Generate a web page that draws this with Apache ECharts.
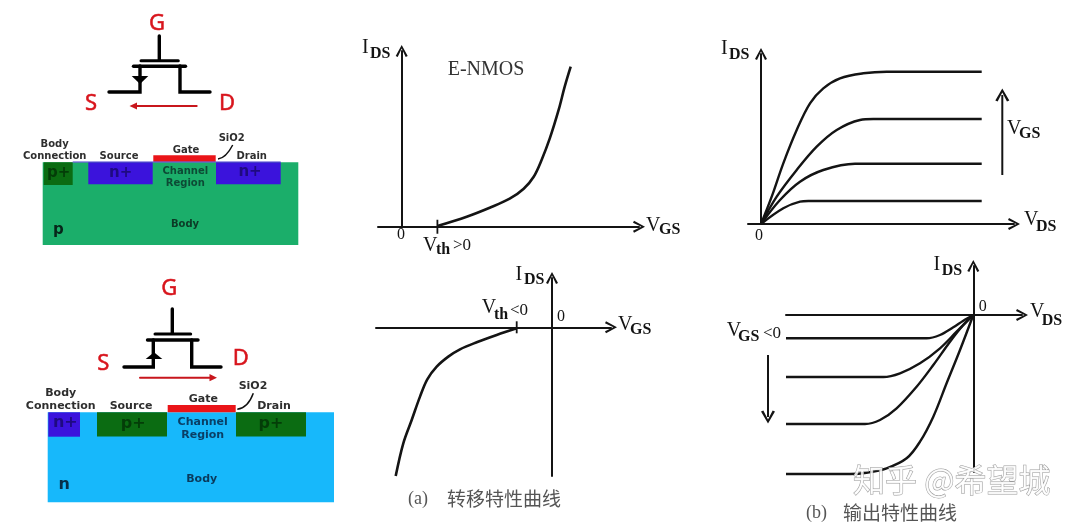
<!DOCTYPE html>
<html><head><meta charset="utf-8">
<style>html,body{margin:0;padding:0;background:#fff}#c{width:1080px;height:525px}</style>
<script src="https://cdn.jsdelivr.net/npm/echarts@6/dist/echarts.min.js"></script>
</head><body><div id="c"></div>
<script>
// ---- chart values (arbitrary units) ----
const transferN = [[35.7,0.7],[65,10],[88,19],[108,28],[122,38],[132,50],[140,67],[148,88],[157,117],[163,140],[169,160]];
const transferP = [[-35.3,-1],[-55.3,-7.7],[-75.3,-15],[-92,-22],[-103.7,-29.3],[-115.3,-39.3],[-124.7,-52],[-132,-69.3],[-140.3,-92.7],[-148.7,-116],[-156.3,-148.7]];
const thresholdN = [[35.7,-7],[35.7,7]];
const thresholdP = [[-35.3,-6],[-35.3,6]];
const outN1 = [[0,0],[10.7,27.3],[22.3,60.7],[35.7,94],[49,120.7],[62.3,135.7],[79,145.7],[102.3,150.7],[125.7,152.3],[220.7,152.3]];
const outN2 = [[0,0],[15.7,27.3],[35.7,54],[55.7,77.3],[75.7,94],[99,104],[112.3,105],[220.7,105]];
const outN3 = [[0,0],[19,24],[39,42.3],[62.3,54],[94,60.3],[220.7,60.3]];
const outN4 = [[0,0],[22.3,15.7],[39,22.3],[47.3,23],[220.7,23]];
const outP2 = [[-187.3,-23.3],[-46.7,-23.3],[-33.3,-20],[-20,-12.3],[-10,-5.7],[0,0]];
const outP3 = [[-187.3,-62],[-90,-62],[-73.3,-58.3],[-53.3,-48.3],[-33.3,-33.3],[-16.7,-16.7],[0,0]];
const outP4 = [[-187.3,-109],[-108.3,-109],[-93.3,-105],[-76.7,-93.3],[-56.7,-71.7],[-40,-50],[-23.3,-26.7],[-10,-10],[0,0]];
const outP5 = [[-187.3,-159],[-123.3,-159],[-106.7,-157.7],[-86.7,-153.3],[-66.7,-143.3],[-53.3,-126.7],[-40,-101.7],[-26.7,-68.3],[-13.3,-35],[0,0]];
const vgsUp = [[241.3,49],[241.3,129]];
const vgsDown = [[-205.3,-40],[-205.3,-102]];

// ---- styling ----
const INK = '#141414', SERIF = '"Liberation Serif","DejaVu Serif",serif';
const SANS = '"DejaVu Sans",sans-serif', CJK = '"Noto Sans CJK SC",sans-serif';
const RED = '#d8141c';
const CHEV = 'path://M2,12 L6,3.6 L10,12 L12,11 L6,0 L0,11 Z';

const panels = [
  {left:378, top:51,  width:261, height:175.7, xr:[-23.7,237.3], yr:[0,175.7]},
  {left:748, top:54,  width:266, height:170,   xr:[-13,253],     yr:[0,170]},
  {left:376, top:278, width:235, height:198,   xr:[-176,59],     yr:[-148.7,49.3]},
  {left:786, top:266, width:236, height:206,   xr:[-187.3,48.7], yr:[-157,49]},
  {left:758, top:266, width:20,  height:206,   xr:[-215.3,-195.3], yr:[-157,49], hidden:true}
];
const axisBase = {
  axisTick:{show:false}, axisLabel:{show:false}, splitLine:{show:false},
  axisLine:{show:true, onZero:true, symbol:['none',CHEV], symbolSize:[13,12], lineStyle:{color:INK,width:2}}
};
const grid = panels.map(p=>({left:p.left,top:p.top,width:p.width,height:p.height}));
const xAxis = panels.map((p,i)=>({...axisBase,show:!p.hidden,type:'value',gridIndex:i,min:p.xr[0],max:p.xr[1]}));
const yAxis = panels.map((p,i)=>({...axisBase,show:!p.hidden,type:'value',gridIndex:i,min:p.yr[0],max:p.yr[1]}));

function curve(name,data,i,w,smooth){
  return {name,type:'line',data,xAxisIndex:i,yAxisIndex:i,showSymbol:false,clip:false,
    smooth:smooth===undefined?0.35:smooth,lineStyle:{color:INK,width:w||2.4},animation:false,silent:true,z:3};
}
function arrow(name,pts,i,rot){
  return {name,type:'line',xAxisIndex:i,yAxisIndex:i,clip:false,symbol:'none',showSymbol:true,showAllSymbol:true,
    data:[pts[0],{value:pts[1],symbol:CHEV,symbolSize:[14,13],symbolRotate:rot,itemStyle:{color:INK}}],
    lineStyle:{color:INK,width:2},animation:false,silent:true,z:3};
}
const series = [
  curve('E-NMOS transfer',transferN,0,2.6), curve('Vth>0',thresholdN,0,1.8,false),
  curve('IDS 1',outN1,1),curve('IDS 2',outN2,1),curve('IDS 3',outN3,1),curve('IDS 4',outN4,1),arrow('VGS',vgsUp,1,0),
  curve('PMOS transfer',transferP,2,2.6), curve('Vth<0',thresholdP,2,1.8,false),
  curve('IDS p2',outP2,3),curve('IDS p3',outP3,3),curve('IDS p4',outP4,3),curve('IDS p5',outP5,3),arrow('VGS<0',vgsDown,4,180)
];

// ---- annotation helpers ----
const g = [];
const txt=(t,x,y,o={})=>g.push({type:'text',z:o.z||10,style:Object.assign({text:t,x,y,fill:INK,fontFamily:SERIF,fontSize:18,
  align:'left',verticalAlign:'middle'},o)});
const rect=(x0,x1,y0,y1,fill)=>g.push({type:'rect',z:1,shape:{x:x0,y:y0,width:x1-x0,height:y1-y0},style:{fill}});
const poly=(pts,stroke,w)=>g.push({type:'polyline',z:4,shape:{points:pts},style:{stroke,lineWidth:w,fill:null,lineCap:'round',lineJoin:'miter'}});
const tri=(pts,fill)=>g.push({type:'polygon',z:4,shape:{points:pts},style:{fill}});
const curveG=(x1,y1,cx,cy,x2,y2)=>g.push({type:'bezierCurve',z:4,shape:{x1,y1,cpx1:cx,cpy1:cy,x2,y2},style:{stroke:'#111',lineWidth:1.5,fill:null}});
const main=(t,x,y)=>txt(t,x,y,{fontSize:20});
const sub=(t,x,y)=>txt(t,x,y,{fontSize:16,fontWeight:'bold'});
const lbl=(t,x,y,o={})=>txt(t,x,y,Object.assign({fontFamily:SANS,fontWeight:'bold',fontSize:10,align:'center',fill:'#2e2e2e'},o));
const red=(t,x,y)=>txt(t,x,y,{fontFamily:'"Noto Sans",sans-serif',fontSize:22,align:'center',fill:RED,stroke:RED,lineWidth:0.5});
const big=(t,x,y,o={})=>txt(t,x,y,Object.assign({fontSize:17},o));
const zero=(x,y)=>txt('0',x,y,{fontSize:16,align:'center'});

// chart 1
main('I',362,47.3);sub('DS',370,53.5);main('V',646,226);sub('GS',659,230);
zero(401,235);
main('V',423,246);sub('th',436,250);big('>0',453,246);
txt('E-NMOS',486,70,{fontSize:20,align:'center',fill:'#333'});
// chart 2
main('I',721,49);sub('DS',729,54.5);main('V',1024,220);sub('DS',1036,227);
zero(759,236);
main('V',1007,129);sub('GS',1019,134);
// chart 3
main('I',515.5,275);sub('DS',524,279.5);main('V',481.7,308);sub('th',494,315);big('<0',510,311);
zero(561,317);main('V',618,325);sub('GS',630,330);
// chart 4
main('I',933.5,265);sub('DS',941.7,270.7);zero(982.7,306.7);
main('V',1030,312);sub('DS',1041.7,320.7);
main('V',726.7,331);sub('GS',738,336.7);big('<0',763,334);
// captions
txt('(a)',408,499,{fontSize:18,fill:'#555'});
txt('转移特性曲线',447,499,{fontSize:19,fontFamily:CJK,fill:'#555'});
txt('(b)',806,513,{fontSize:18,fill:'#555'});
txt('输出特性曲线',843,513,{fontSize:19,fontFamily:CJK,fill:'#555'});
txt('知乎 @希望城',853,480,{fontSize:32,fontFamily:CJK,fill:'rgba(255,255,255,0.85)',stroke:'rgba(120,120,120,0.75)',lineWidth:1,z:20});

// NMOS diagram
rect(42.7,298.3,162.3,245,'#1bae6a');
rect(43.7,72.7,162.3,185,'#0b6c12');
rect(88.3,152.7,162.3,184.3,'#3b13dc');
rect(216,280.7,162.3,184.3,'#3b13dc');
rect(153.3,215.7,155.3,161.7,'#ea1418');
rect(72.7,280.7,161.6,162.6,'#4a3ad0');
lbl('Body',54.7,144.3);lbl('Connection',54.7,156.7);lbl('Source',119,156);lbl('Gate',186,150.5);
lbl('SiO2',231.7,138);lbl('Drain',251.7,156);
lbl('Channel',185.3,171,{fill:'#0d4a35'});lbl('Region',185.3,183.5,{fill:'#0d4a35'});lbl('Body',185,224,{fill:'#0c3a26'});
lbl('p+',58.7,173,{fontSize:15,fill:'#043d08'});lbl('n+',120.7,173.5,{fontSize:15,fill:'#1f0a80'});lbl('n+',250,172.5,{fontSize:15,fill:'#1f0a80'});
lbl('p',58.3,230,{fontSize:15,fill:'#07261a'});
curveG(232.7,145,226,158,218,159);
red('G',157,24);red('S',91,104);red('D',227,104);
poly([[159.3,36],[159.3,60]],'#000',3.4);
poly([[141,60.7],[178.3,60.7]],'#000',3);
poly([[133.5,66.3],[185.5,66.3]],'#000',3.4);
poly([[109,92],[140,92],[140,66]],'#000',3.4);
poly([[210,92],[180,92],[180,66]],'#000',3.4);
tri([[131.7,76],[148.3,76],[140,84]],'#000');
poly([[196.7,106],[134,106]],'#c8161c',2);
tri([[129.5,106],[137,102.4],[137,109.6]],'#c8161c');

// PMOS diagram
rect(47.7,334,412.3,502.3,'#17b8fb');
rect(48.3,80,412.3,436.7,'#3b13dc');
rect(97,167,412.3,436.5,'#0b6c12');
rect(236,306,412.3,436.5,'#0b6c12');
rect(167.7,235.7,405,412.3,'#ea1418');
const L={fontSize:11};
lbl('Body',60.7,393,L);lbl('Connection',60.7,406.3,L);lbl('Source',131,406,L);lbl('Gate',203.3,399.3,L);
lbl('SiO2',253,386,L);lbl('Drain',274,406,L);
lbl('Channel',202.7,421.7,{fontSize:11,fill:'#0a3f66'});lbl('Region',202.7,435.3,{fontSize:11,fill:'#0a3f66'});lbl('Body',201.7,479.3,{fontSize:11,fill:'#0a3a5c'});
lbl('n+',65.3,423.3,{fontSize:16,fill:'#1f0a80'});lbl('p+',133.3,424.3,{fontSize:16,fill:'#043d08'});lbl('p+',271,423.7,{fontSize:16,fill:'#043d08'});
lbl('n',64.3,484.7,{fontSize:16,fill:'#06304a'});
curveG(253.3,393.3,248,408,237.3,409.3);
red('G',169.3,289);red('S',103.3,363.3);red('D',240.7,359);
poly([[172.3,309],[172.3,333]],'#000',3.4);
poly([[155,334],[190.7,334]],'#000',3);
poly([[147.5,340],[198,340]],'#000',3.4);
poly([[124,367],[153.3,367],[153.3,340]],'#000',3.4);
poly([[221,367],[191.7,367],[191.7,340]],'#000',3.4);
tri([[145.7,359],[162.3,359],[154,352.3]],'#000');
poly([[140,377.7],[212,377.7]],'#c8161c',2);
tri([[217,377.7],[209.5,374.1],[209.5,381.3]],'#c8161c');

const chart = echarts.init(document.getElementById('c'),null,{renderer:'canvas'});
chart.setOption({backgroundColor:'#fff',animation:false,grid,xAxis,yAxis,series,graphic:{elements:g}});
</script></body></html>
